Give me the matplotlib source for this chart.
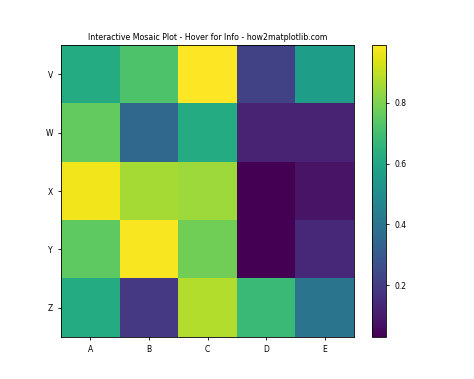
import numpy as np
import matplotlib
matplotlib.use('Agg')
import matplotlib.pyplot as plt

cols = ['A', 'B', 'C', 'D', 'E']
rows = ['V', 'W', 'X', 'Y', 'Z']
row_v = [0.62, 0.72, 0.99, 0.22, 0.57]
row_w = [0.76, 0.35, 0.62, 0.12, 0.12]
row_x = [0.97, 0.86, 0.85, 0.03, 0.08]
row_y = [0.75, 0.98, 0.78, 0.03, 0.14]
row_z = [0.62, 0.19, 0.88, 0.68, 0.40]

data = np.array([row_v, row_w, row_x, row_y, row_z])

fig = plt.figure(figsize=(4.74, 3.79), dpi=100)
ax = fig.add_axes([0.129, 0.111, 0.618, 0.770])
cax = fig.add_axes([0.785, 0.111, 0.029, 0.770])

im = ax.imshow(data, cmap='viridis', aspect='auto')
ax.set_xticks(range(len(cols)))
ax.set_xticklabels(cols)
ax.set_yticks(range(len(rows)))
ax.set_yticklabels(rows)
ax.tick_params(labelsize=5.5, length=2.5, width=0.6)
for s in ax.spines.values():
    s.set_linewidth(0.6)
ax.set_title('Interactive Mosaic Plot - Hover for Info - how2matplotlib.com', fontsize=5.7, pad=4)

cb = fig.colorbar(im, cax=cax)
cb.set_ticks([0.2, 0.4, 0.6, 0.8])
cb.ax.tick_params(labelsize=5.5, length=2.5, width=0.6)
cb.outline.set_linewidth(0.6)

fig.savefig('out.png', dpi=100)
